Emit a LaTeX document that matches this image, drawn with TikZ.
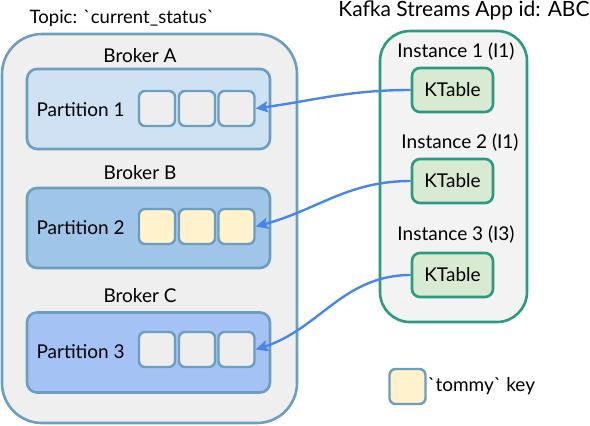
\documentclass[tikz,border=0pt]{standalone}
\usepackage{fontspec}
\setmainfont{Lato}[Ligatures=TeXOff]
\usepackage{tikz}
\usetikzlibrary{arrows.meta, positioning}
\definecolor{topicfill}{HTML}{EFEFEF}
\definecolor{topicline}{HTML}{6C9EBF}
\definecolor{partA}{HTML}{CFE2F3}
\definecolor{partB}{HTML}{9FC5E8}
\definecolor{partC}{HTML}{A4C2F4}
\definecolor{cellfill}{HTML}{EEEEEE}
\definecolor{keyfill}{HTML}{FFF2CC}
\definecolor{appfill}{HTML}{F3F3F3}
\definecolor{appline}{HTML}{2A9A80}
\definecolor{ktfill}{HTML}{D9EAD3}
\definecolor{linkblue}{HTML}{4A86E8}

\begin{document}
\begin{tikzpicture}[x=1pt, y=-1pt,
	font=\fontsize{19}{22}\selectfont,
	topic/.style={draw=topicline, fill=topicfill, line width=2.6pt, rounded corners=40pt, minimum width=295pt, minimum height=389pt},
	partition/.style={draw=topicline, line width=2.6pt, rounded corners=10pt, minimum width=243pt, minimum height=80pt},
	cell/.style={draw=topicline, fill=cellfill, line width=2.4pt, rounded corners=6pt, minimum width=36pt, minimum height=35pt},
	app/.style={draw=appline, fill=appfill, line width=2.6pt, rounded corners=30pt, minimum width=147pt, minimum height=291pt},
	ktable/.style={draw=appline, fill=ktfill, line width=2.6pt, rounded corners=8pt, minimum width=81pt, minimum height=44pt},
	link/.style={draw=linkblue, line width=2.4pt, -{Stealth[length=12pt, width=11pt, inset=2pt]}}
]

\useasboundingbox (0,0) rectangle (590,426);

% topic side
\node[font=\fontsize{18.5}{22}\selectfont] (topic title) at (122,18) {Topic: `current\_status`};
\node[topic] (topic) at (149.5,228.5) {};

\node (broker a) at (140,56)  {Broker A};
\node (broker b) at (140,173) {Broker B};
\node (broker c) at (140,296) {Broker C};

\node[partition, fill=partA] (p1) at (148.5,109)   {};
\node[partition, fill=partB] (p2) at (148.5,228)   {};
\node[partition, fill=partC] (p3) at (148.5,352.5) {};

\node[anchor=west] (p1 label) at (33,110) {Partition 1};
\node[anchor=west] (p2 label) at (33,228) {Partition 2};
\node[anchor=west] (p3 label) at (33,352) {Partition 3};

\foreach \c/\x in {1/157, 2/197, 3/236.5} {
	\node[cell] (c1\c) at (\x,108.5) {}; % partition 1
	\node[cell, fill=keyfill] (c2\c) at (\x,226.5) {}; % partition 2
	\node[cell] (c3\c) at (\x,349.5) {}; % partition 3
}

% streams app side
\node[font=\fontsize{21}{24}\selectfont] (app title) at (464,10) {Kafka Streams App id: ABC};
\node[app] (app) at (453.5,176.5) {};

\node (i1) at (456,52)  {Instance 1 (I1)};
\node (i2) at (460,143) {Instance 2 (I1)};
\node (i3) at (456,235) {Instance 3 (I3)};

\node[ktable] (kt1) at (452.5,90)  {KTable};
\node[ktable] (kt2) at (452.5,181) {KTable};
\node[ktable] (kt3) at (452.5,275) {KTable};

\draw[link] (kt1.west) to[out=180, in=8]  (c13.east);
\draw[link] (kt2.west) to[out=180, in=15] (c23.east);
\draw[link] (kt3.west) to[out=180, in=18] (c33.east);

% legend
\node[cell, fill=keyfill] (key) at (407.5,386.5) {};
\node[anchor=west, inner sep=1pt] (key label) at (key.east) {`tommy` key};

\end{tikzpicture}
\end{document}
